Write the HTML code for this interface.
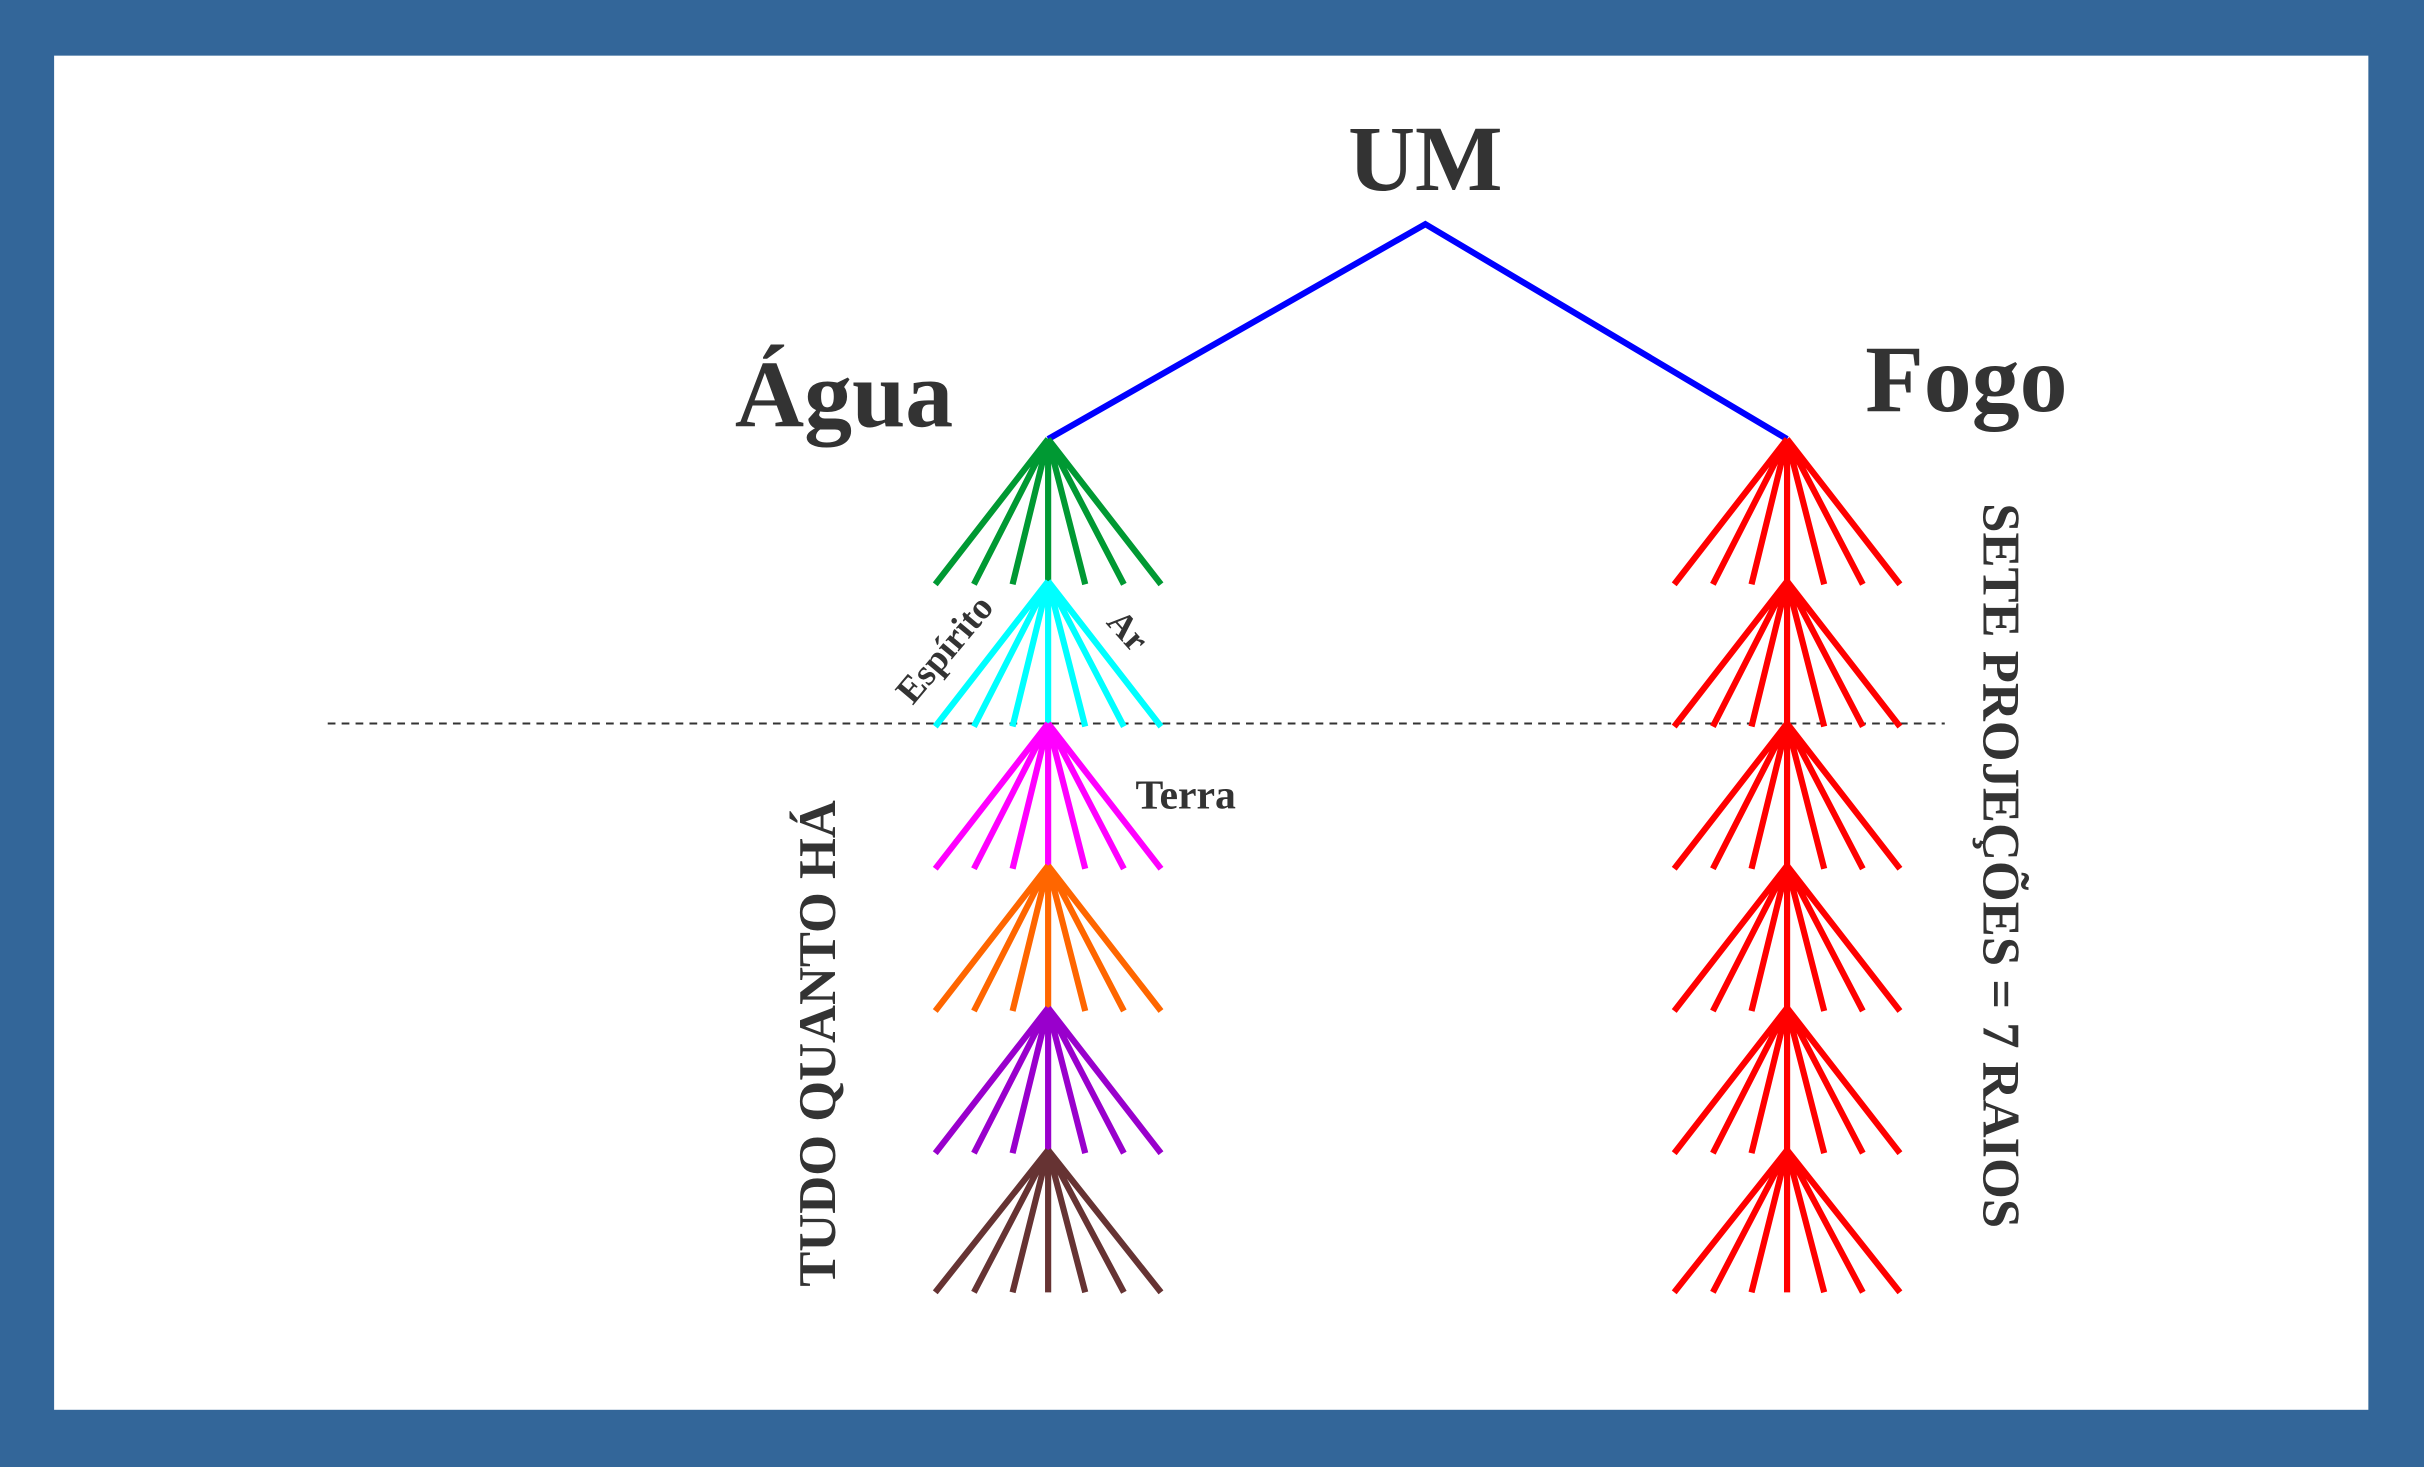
<!DOCTYPE html>
<html><head><meta charset="utf-8"><style>
html,body{margin:0;padding:0;background:#fff}
svg{display:block}
text{font-family:"Liberation Serif",serif;font-weight:bold;fill:#333}
</style></head><body>
<svg width="2424" height="1467" viewBox="0 0 1568 949" preserveAspectRatio="none" xmlns="http://www.w3.org/2000/svg">
<rect x="0" y="0" width="1568" height="949" fill="#336699"/>
<rect x="35" y="36" width="1497" height="876" fill="#fff"/>
<line x1="212" y1="468" x2="1258" y2="468" stroke="#333" stroke-width="1.3" stroke-dasharray="5,4"/>
<polyline points="678,284 922,145 1156,284" fill="none" stroke="#0000ff" stroke-width="4"/>
<g stroke-width="4">
<g stroke="#009933"><path d="M678,284L605,378M678,284L630,378M678,284L655,378M678,284L678,378M678,284L702,378M678,284L727,378M678,284L751,378"/></g>
<g stroke="#00ffff"><path d="M678,376L605,470M678,376L630,470M678,376L655,470M678,376L678,470M678,376L702,470M678,376L727,470M678,376L751,470"/></g>
<g stroke="#ff00ff"><path d="M678,468L605,562M678,468L630,562M678,468L655,562M678,468L678,562M678,468L702,562M678,468L727,562M678,468L751,562"/></g>
<g stroke="#ff6600"><path d="M678,560L605,654M678,560L630,654M678,560L655,654M678,560L678,654M678,560L702,654M678,560L727,654M678,560L751,654"/></g>
<g stroke="#9900cc"><path d="M678,652L605,746M678,652L630,746M678,652L655,746M678,652L678,746M678,652L702,746M678,652L727,746M678,652L751,746"/></g>
<g stroke="#663333"><path d="M678,744L605,836M678,744L630,836M678,744L655,836M678,744L678,836M678,744L702,836M678,744L727,836M678,744L751,836"/></g>
<g stroke="#ff0000">
<path d="M1156,284L1083,378M1156,284L1108,378M1156,284L1133,378M1156,284L1156,378M1156,284L1180,378M1156,284L1205,378M1156,284L1229,378"/>
<path d="M1156,376L1083,470M1156,376L1108,470M1156,376L1133,470M1156,376L1156,470M1156,376L1180,470M1156,376L1205,470M1156,376L1229,470"/>
<path d="M1156,468L1083,562M1156,468L1108,562M1156,468L1133,562M1156,468L1156,562M1156,468L1180,562M1156,468L1205,562M1156,468L1229,562"/>
<path d="M1156,560L1083,654M1156,560L1108,654M1156,560L1133,654M1156,560L1156,654M1156,560L1180,654M1156,560L1205,654M1156,560L1229,654"/>
<path d="M1156,652L1083,746M1156,652L1108,746M1156,652L1133,746M1156,652L1156,746M1156,652L1180,746M1156,652L1205,746M1156,652L1229,746"/>
<path d="M1156,744L1083,836M1156,744L1108,836M1156,744L1133,836M1156,744L1156,836M1156,744L1180,836M1156,744L1205,836M1156,744L1229,836"/>
</g>
</g>
<text x="922" y="123" font-size="60" text-anchor="middle">UM</text>
<text x="546" y="276" font-size="62" text-anchor="middle">Água</text>
<text x="1272" y="266" font-size="62" text-anchor="middle">Fogo</text>
<text x="767" y="523" font-size="27" text-anchor="middle">Terra</text>
<text transform="translate(617,425) rotate(-50)" font-size="24" text-anchor="middle">Espírito</text>
<text transform="translate(724,413) rotate(48)" font-size="23" text-anchor="middle">Ar</text>
<text transform="translate(540,675) rotate(-90)" font-size="34" text-anchor="middle">TUDO QUANTO HÁ</text>
<text transform="translate(1283,560) rotate(90)" font-size="34" text-anchor="middle">SETE PROJEÇÕES = 7 RAIOS</text>
</svg>
</body></html>
